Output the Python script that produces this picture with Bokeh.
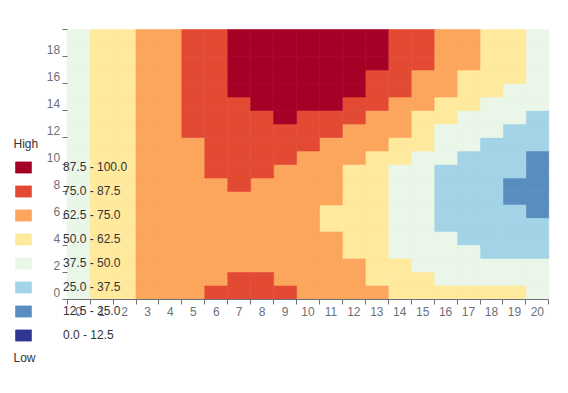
from bokeh.plotting import figure
from bokeh.models import (ColumnDataSource, Range1d, FixedTicker, Legend, LegendItem, Label,
                          LinearAxis)
from bokeh.embed import file_html
from bokeh.resources import INLINE

# ---------------- data ----------------
x_labels = [str(i) for i in range(21)]
y_labels = [str(i) for i in range(20)]

# values per row, row 0 (bottom) first, 21 columns each
row_values = [
    [44, 56, 56, 69, 69, 69, 81, 81, 81, 81, 69, 69, 69, 69, 56, 56, 56, 56, 56, 56, 44],  # 0
    [44, 56, 56, 69, 69, 69, 69, 81, 81, 69, 69, 69, 69, 56, 56, 56, 44, 44, 44, 44, 44],  # 1
    [44, 56, 56, 69, 69, 69, 69, 69, 69, 69, 69, 69, 69, 56, 56, 44, 44, 44, 44, 44, 44],  # 2
    [44, 56, 56, 69, 69, 69, 69, 69, 69, 69, 69, 69, 56, 56, 44, 44, 44, 44, 31, 31, 31],  # 3
    [44, 56, 56, 69, 69, 69, 69, 69, 69, 69, 69, 69, 56, 56, 44, 44, 44, 31, 31, 31, 31],  # 4
    [44, 56, 56, 69, 69, 69, 69, 69, 69, 69, 69, 56, 56, 56, 44, 44, 31, 31, 31, 31, 31],  # 5
    [44, 56, 56, 69, 69, 69, 69, 69, 69, 69, 69, 56, 56, 56, 44, 44, 31, 31, 31, 31, 19],  # 6
    [44, 56, 56, 69, 69, 69, 69, 69, 69, 69, 69, 69, 56, 56, 44, 44, 31, 31, 31, 19, 19],  # 7
    [44, 56, 56, 69, 69, 69, 69, 81, 69, 69, 69, 69, 56, 56, 44, 44, 31, 31, 31, 19, 19],  # 8
    [44, 56, 56, 69, 69, 69, 81, 81, 81, 69, 69, 69, 56, 56, 44, 44, 31, 31, 31, 31, 19],  # 9
    [44, 56, 56, 69, 69, 69, 81, 81, 81, 81, 69, 69, 69, 56, 56, 44, 44, 31, 31, 31, 19],  # 10
    [44, 56, 56, 69, 69, 69, 81, 81, 81, 81, 81, 69, 69, 69, 56, 56, 44, 44, 31, 31, 31],  # 11
    [44, 56, 56, 69, 69, 81, 81, 81, 81, 81, 81, 81, 69, 69, 69, 56, 44, 44, 44, 31, 31],  # 12
    [44, 56, 56, 69, 69, 81, 81, 81, 81, 94, 81, 81, 81, 69, 69, 56, 56, 44, 44, 44, 31],  # 13
    [44, 56, 56, 69, 69, 81, 81, 81, 94, 94, 94, 94, 81, 81, 69, 69, 56, 56, 44, 44, 44],  # 14
    [44, 56, 56, 69, 69, 81, 81, 94, 94, 94, 94, 94, 94, 81, 81, 69, 69, 56, 56, 44, 44],  # 15
    [44, 56, 56, 69, 69, 81, 81, 94, 94, 94, 94, 94, 94, 81, 81, 69, 69, 56, 56, 56, 44],  # 16
    [44, 56, 56, 69, 69, 81, 81, 94, 94, 94, 94, 94, 94, 94, 81, 81, 69, 69, 56, 56, 44],  # 17
    [44, 56, 56, 69, 69, 81, 81, 94, 94, 94, 94, 94, 94, 94, 81, 81, 69, 69, 56, 56, 44],  # 18
    [44, 56, 56, 69, 69, 81, 81, 94, 94, 94, 94, 94, 94, 94, 81, 81, 69, 69, 56, 56, 44],  # 19
]

piece_bounds = [0.0, 12.5, 25.0, 37.5, 50.0, 62.5, 75.0, 87.5, 100.0]
piece_colors = ["#313695", "#598dc0", "#a3d3e6", "#e9f6e8",
                "#fee99d", "#fca55d", "#e34a33", "#a50026"]

# ---------------- layout geometry (pixels) ----------------
W, H = 560, 385
HEAT_L, HEAT_R, HEAT_T, HEAT_B = 66.7, 548.3, 29.0, 299.0
nx, ny = len(x_labels), len(y_labels)
dx = (HEAT_R - HEAT_L) / nx
dy = (HEAT_B - HEAT_T) / ny
x0 = -0.5 - HEAT_L / dx
y1 = (ny - 0.5) + HEAT_T / dy

p = figure(width=W, height=H, min_border=0,
           x_range=Range1d(x0, x0 + W / dx), y_range=Range1d(y1 - H / dy, y1),
           x_axis_location=None, y_axis_location=None,
           output_backend="svg", toolbar_location=None, tools="")
p.outline_line_color = None
p.xgrid.visible = False
p.ygrid.visible = False
p.background_fill_color = "white"
p.border_fill_color = "white"

# bucket cells by piece
n_pieces = len(piece_colors)
buckets = [dict(x=[], y=[], v=[]) for _ in range(n_pieces)]
for yi, row in enumerate(row_values):
    for xi, v in enumerate(row):
        k = 0
        for i in range(n_pieces):
            if v >= piece_bounds[i]:
                k = i
        buckets[k]["x"].append(xi)
        buckets[k]["y"].append(yi)
        buckets[k]["v"].append(v)

for k in range(n_pieces):
    src = ColumnDataSource(buckets[k])
    p.rect(x="x", y="y", width=1, height=1, source=src,
           fill_color=piece_colors[k], line_color=piece_colors[k], line_width=0.6)

# legend key renderers (no visible marks, only used to draw legend swatches)
key_renderers = []
for k in range(n_pieces):
    ksrc = ColumnDataSource(dict(x=[float("nan")], y=[float("nan")]))
    kr = p.rect(x="x", y="y", width=1, height=1, source=ksrc,
                fill_color=piece_colors[k], line_color=piece_colors[k], line_width=0.6)
    key_renderers.append(kr)

FONT = "Liberation Sans"
axis_color = "#6E7079"

# axes drawn inside the frame at the heatmap edges
xa = LinearAxis(fixed_location=-0.5, bounds=(-0.5, nx - 0.5))
xa.ticker = FixedTicker(ticks=list(range(nx)),
                        minor_ticks=[i - 0.5 for i in range(nx + 1)])
xa.major_label_overrides = {i: s for i, s in enumerate(x_labels)}
xa.major_tick_out = 0
xa.major_tick_in = 0
xa.minor_tick_out = 5
xa.minor_tick_in = 0
xa.minor_tick_line_color = axis_color
xa.axis_line_color = axis_color
xa.major_label_text_color = axis_color
xa.major_label_text_font = FONT
xa.major_label_text_font_size = "12px"
xa.major_label_standoff = 2
p.add_layout(xa, "below")

ya = LinearAxis(fixed_location=-0.5, bounds=(-0.5, ny - 0.5))
ya.ticker = FixedTicker(ticks=list(range(0, ny, 2)),
                        minor_ticks=[i - 0.5 for i in range(0, ny + 1, 2)])
ya.major_label_overrides = {i: y_labels[i] for i in range(0, ny, 2)}
ya.major_tick_out = 0
ya.major_tick_in = 0
ya.minor_tick_out = 5
ya.minor_tick_in = 0
ya.minor_tick_line_color = axis_color
ya.axis_line_color = None
ya.major_label_text_color = axis_color
ya.major_label_text_font = FONT
ya.major_label_text_font_size = "12px"
ya.major_label_standoff = 2
p.add_layout(ya, "left")

# piecewise legend (High -> Low)
items = []
for k in reversed(range(n_pieces)):
    lab = f"{piece_bounds[k]:.1f} - {piece_bounds[k+1]:.1f}"
    items.append(LegendItem(label=lab, renderers=[key_renderers[k]]))

legend = Legend(items=items, location=(13, H - 342), orientation="vertical",
                glyph_width=20, glyph_height=14, label_height=14, spacing=10,
                label_standoff=30, padding=0, margin=0,
                label_text_font=FONT, label_text_font_size="12px", label_text_color="#333333",
                background_fill_alpha=0, border_line_alpha=0)
p.add_layout(legend, "center")

p.add_layout(Label(x=13, y=H - 143, x_units="screen", y_units="screen", text="High",
                   text_font=FONT, text_font_size="12px", text_color="#333333",
                   text_baseline="middle"))
p.add_layout(Label(x=13, y=H - 357, x_units="screen", y_units="screen", text="Low",
                   text_font=FONT, text_font_size="12px", text_color="#333333",
                   text_baseline="middle"))

open("out.html", "w").write(file_html(p, INLINE))
